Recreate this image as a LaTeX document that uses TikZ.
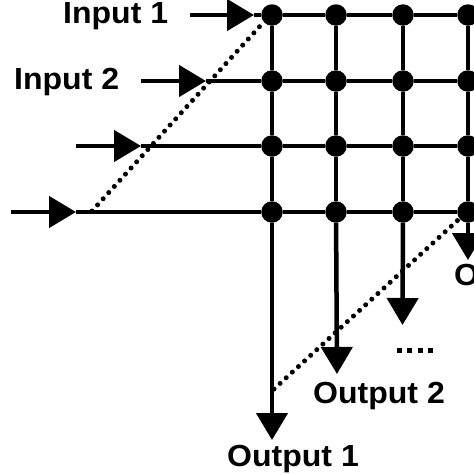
\documentclass[tikz,border=0pt]{standalone}
\usepackage{fontspec}
\setmainfont[FakeStretch=1.05]{Liberation Sans}
\usetikzlibrary{arrows.meta}
\tikzset{
  dotnode/.style={circle,fill=black,draw=none,minimum size=21.5pt,inner sep=0pt},
  wire/.style={line width=4.5pt,black},
  arrowline/.style={wire,-{Triangle[length=27pt,width=31pt]},shorten >=0pt},
  dottedline/.style={line width=5pt,black,line cap=round,dash pattern=on 0pt off 8.3pt},
  lab/.style={font=\fontsize{30.5}{32}\selectfont\bfseries,anchor=base west,inner sep=0pt,text=black}
}
\begin{document}
\begin{tikzpicture}[x=1pt,y=-1pt]
\useasboundingbox (0,0) rectangle (474,474);
\clip (0,0) rectangle (474,474);
\fill[white] (0,0) rectangle (474,474);
% grid nodes
\foreach \r/\y in {1/15,2/81,3/146,4/212}{
  \foreach \c/\x in {1/272,2/336,3/403,4/468}{
    \node[dotnode] (n\r\c) at (\x,\y) {};
  }
}
% free ends
\coordinate (in1) at (190,15);  \coordinate (tip1) at (254,15);
\coordinate (in2) at (141,81);  \coordinate (tip2) at (206,81);
\coordinate (in3) at (76,146);  \coordinate (tip3) at (141,146);
\coordinate (in4) at (11,212);  \coordinate (tip4) at (76,212);
\coordinate (out1) at (272,440);
\coordinate (out2) at (337,374);
\coordinate (out3) at (402.5,325);
\coordinate (out4) at (468,260);
\coordinate (d1a) at (92,211);
\coordinate (d1b) at (261,25);
\coordinate (d2a) at (274,389);
\coordinate (d2b) at (458,220);
% rows
\foreach \r in {1,2,3,4}{
  \draw[wire] (tip\r) -- (n\r1) -- (n\r2) -- (n\r3) -- (n\r4);
  \draw[arrowline] (in\r) -- (tip\r);
}
% columns
\foreach \c in {1,2,3,4}{
  \draw[wire] (n1\c) -- (n2\c) -- (n3\c) -- (n4\c);
  \draw[arrowline] (n4\c) -- (out\c);
}
% dotted diagonals
\draw[dottedline] (d1a) -- (d1b);
\draw[dottedline] (d2a) -- (d2b);
% ellipsis
\draw[line width=5pt,black,dash pattern=on 5pt off 5.6pt] (396.5,350) -- (433,350);
% labels
\node[lab] (l1) at (63,23.5) {Input 1};
\node[lab] (l2) at (14,89.5) {Input 2};
\node[lab] (l3) at (313,403) {Output 2};
\node[lab] (l4) at (227,466.5) {Output 1};
\node[lab] (l5) at (454,285) {O};
\end{tikzpicture}
\end{document}
